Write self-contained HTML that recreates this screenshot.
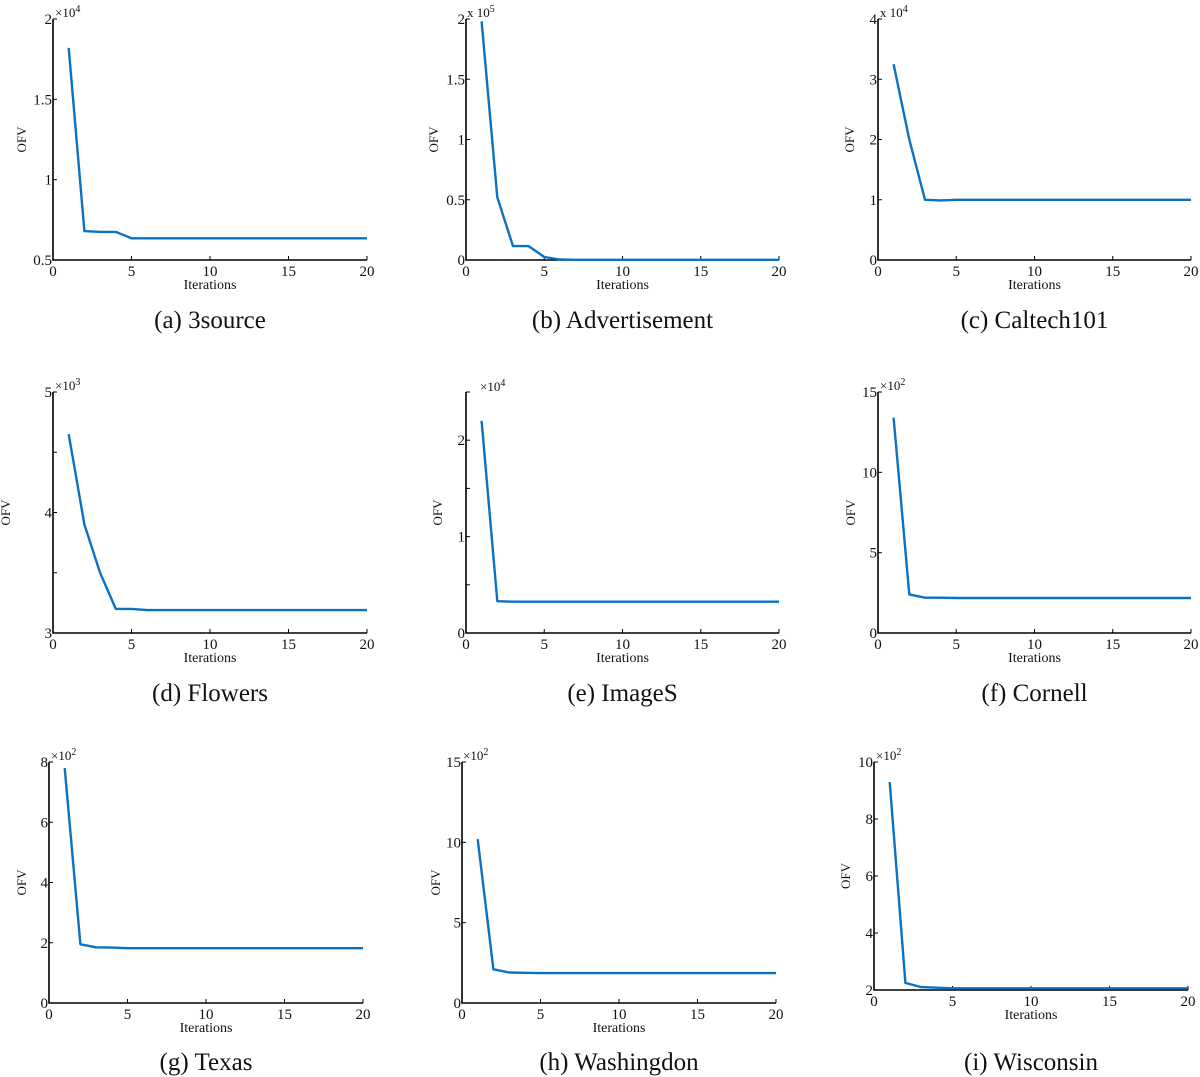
<!DOCTYPE html>
<html><head><meta charset="utf-8">
<style>
html,body{margin:0;padding:0;background:#fff;}
svg{display:block;font-family:"Liberation Serif",serif;}
</style></head>
<body>
<svg id="fig" width="1200" height="1077" viewBox="0 0 1200 1077"></svg>
<script>
// ---- data (OFV values per iteration 1..20) ----
const iterations = [1,2,3,4,5,6,7,8,9,10,11,12,13,14,15,16,17,18,19,20];
const ofv3source = [1.82,0.68,0.675,0.675,0.635,0.635,0.635,0.635,0.635,0.635,0.635,0.635,0.635,0.635,0.635,0.635,0.635,0.635,0.635,0.635];
const ofvAdvert = [1.98,0.52,0.115,0.115,0.025,0.004,0.002,0.002,0.002,0.002,0.002,0.002,0.002,0.002,0.002,0.002,0.002,0.002,0.002,0.002];
const ofvCaltech = [3.25,2.0,1.0,0.99,1.0,1.0,1.0,1.0,1.0,1.0,1.0,1.0,1.0,1.0,1.0,1.0,1.0,1.0,1.0,1.0];
const ofvFlowers = [4.65,3.9,3.5,3.2,3.2,3.19,3.19,3.19,3.19,3.19,3.19,3.19,3.19,3.19,3.19,3.19,3.19,3.19,3.19,3.19];
const ofvImageS = [2.2,0.33,0.325,0.325,0.325,0.325,0.325,0.325,0.325,0.325,0.325,0.325,0.325,0.325,0.325,0.325,0.325,0.325,0.325,0.325];
const ofvCornell = [13.4,2.4,2.2,2.2,2.18,2.18,2.18,2.18,2.18,2.18,2.18,2.18,2.18,2.18,2.18,2.18,2.18,2.18,2.18,2.18];
const ofvTexas = [7.8,1.95,1.85,1.84,1.82,1.82,1.82,1.82,1.82,1.82,1.82,1.82,1.82,1.82,1.82,1.82,1.82,1.82,1.82,1.82];
const ofvWash = [10.2,2.1,1.9,1.88,1.86,1.86,1.86,1.86,1.86,1.86,1.86,1.86,1.86,1.86,1.86,1.86,1.86,1.86,1.86,1.86];
const ofvWisc = [9.3,2.25,2.1,2.08,2.06,2.06,2.06,2.06,2.06,2.06,2.06,2.06,2.06,2.06,2.06,2.06,2.06,2.06,2.06,2.06];
const xTickValues = [0,5,10,15,20];
const yTicksA = [0.5,1,1.5,2], yLabelsA = ["0.5","1","1.5","2"];
const yTicksB = [0,0.5,1,1.5,2], yLabelsB = ["0","0.5","1","1.5","2"];
const yTicksC = [0,1,2,3,4], yLabelsC = ["0","1","2","3","4"];
const yTicksD = [3,3.5,4,4.5,5], yLabelsD = ["3","","4","","5"];
const yTicksE = [0,0.5,1,1.5,2,2.5], yLabelsE = ["0","","1","","2",""];
const yTicks15 = [0,5,10,15], yLabels15 = ["0","5","10","15"];
const yTicksG = [0,2,4,6,8], yLabelsG = ["0","2","4","6","8"];
const yTicksI = [2,4,6,8,10], yLabelsI = ["2","4","6","8","10"];
const captions = ["(a)  3source","(b)  Advertisement","(c)  Caltech101","(d)  Flowers","(e)  ImageS","(f)  Cornell","(g)  Texas","(h)  Washingdon","(i)  Wisconsin"];
const expLabels = ["4","5","4","3","4","2","2","2","2"];

// ---- layout ----
const panels = [
 {id:"a",x0:53,x1:367,yt:19,yb:260,ymin:0.5,ymax:2,data:ofv3source,ticks:yTicksA,labels:yLabelsA,exp:"×10",cy:328,ex:55,ey:17,ylx:26},
 {id:"b",x0:466,x1:779,yt:19,yb:260,ymin:0,ymax:2,data:ofvAdvert,ticks:yTicksB,labels:yLabelsB,exp:"x 10",cy:328,ex:467,ey:17,ylx:438},
 {id:"c",x0:878,x1:1191,yt:19,yb:260,ymin:0,ymax:4,data:ofvCaltech,ticks:yTicksC,labels:yLabelsC,exp:"x 10",cy:328,ex:880,ey:17,ylx:854},
 {id:"d",x0:53,x1:367,yt:392,yb:633,ymin:3,ymax:5,data:ofvFlowers,ticks:yTicksD,labels:yLabelsD,exp:"×10",cy:701,ex:55,ey:390,ylx:10},
 {id:"e",x0:466,x1:779,yt:392,yb:633,ymin:0,ymax:2.5,data:ofvImageS,ticks:yTicksE,labels:yLabelsE,exp:"×10",cy:701,ex:480,ey:391,ylx:442},
 {id:"f",x0:878,x1:1191,yt:392,yb:633,ymin:0,ymax:15,data:ofvCornell,ticks:yTicks15,labels:yLabels15,exp:"×10",cy:701,ex:880,ey:390,ylx:855},
 {id:"g",x0:49,x1:363,yt:762,yb:1003,ymin:0,ymax:8,data:ofvTexas,ticks:yTicksG,labels:yLabelsG,exp:"×10",cy:1070,ex:51,ey:760,ylx:26},
 {id:"h",x0:462,x1:776,yt:762,yb:1003,ymin:0,ymax:15,data:ofvWash,ticks:yTicks15,labels:yLabels15,exp:"×10",cy:1070,ex:463,ey:760,ylx:440},
 {id:"i",x0:874,x1:1188,yt:762,yb:990,ymin:2,ymax:10,data:ofvWisc,ticks:yTicksI,labels:yLabelsI,exp:"×10",cy:1070,ex:876,ey:760,ylx:850}
];
const NS="http://www.w3.org/2000/svg";
const svg=document.getElementById('fig');
function mk(tag,attrs,parent){const e=document.createElementNS(NS,tag);for(const k in attrs)e.setAttribute(k,attrs[k]);parent.appendChild(e);return e;}

panels.forEach((p,pi)=>{
  const g=mk('g',{},svg);
  
  
  const xs=v=>p.x0+(v-0)/(20-0)*(p.x1-p.x0);
  const ys=v=>p.yb-(v-p.ymin)/(p.ymax-p.ymin)*(p.yb-p.yt);
  const ax=mk('path',{d:`M${p.x0},${p.yt}V${p.yb}H${p.x1}`,fill:'none',stroke:'#000','stroke-width':1.6},g);
  
  
  xTickValues.forEach(v=>{
    const X=xs(v);
    if(v>0){const t=mk('line',{x1:X,x2:X,y1:p.yb,y2:p.yb-4,stroke:'#000','stroke-width':1},g);
      }
    const tx=mk('text',{x:X,y:p.yb+16,'font-size':15,'text-anchor':'middle',fill:'#111'},g);
    tx.textContent=String(v);
    
    
  });
  p.ticks.forEach((v,i)=>{
    const Y=ys(v);
    const t=mk('line',{x1:p.x0,x2:p.x0+4,y1:Y,y2:Y,stroke:'#000','stroke-width':1},g);
    
    if(p.labels[i]){
      const tx=mk('text',{x:p.x0-1,y:Y+5,'font-size':15,'text-anchor':'end',fill:'#111'},g);
      tx.textContent=p.labels[i];
      
      
    }
  });
  const ex=mk('text',{x:p.ex,y:p.ey,'font-size':13,fill:'#111'},g);
  ex.textContent=p.exp;
  const sup=mk('tspan',{dy:-5,'font-size':10},ex);
  sup.textContent=expLabels[pi];
  
  
  const cy=(p.yt+p.yb)/2;
  const yl=mk('text',{x:p.ylx,y:cy,'font-size':13,'text-anchor':'middle',transform:`rotate(-90 ${p.ylx} ${cy})`,fill:'#111'},g);
  yl.textContent='OFV';
  
  
  const xl=mk('text',{x:(p.x0+p.x1)/2,y:p.yb+29,'font-size':14,'text-anchor':'middle',fill:'#111'},g);
  xl.textContent='Iterations';
  
  
  const pts=iterations.map((it,i)=>`${xs(it).toFixed(1)},${ys(p.data[i]).toFixed(1)}`).join(' ');
  const ln=mk('polyline',{points:pts,fill:'none',stroke:'#0a72c4','stroke-width':2.4,'stroke-linejoin':'round'},g);
  
  
  const cap=mk('text',{x:(p.x0+p.x1)/2,y:p.cy,'font-size':25,'text-anchor':'middle',fill:'#111'},g);
  cap.textContent=captions[pi];
  
  
});
</script>
</body></html>
